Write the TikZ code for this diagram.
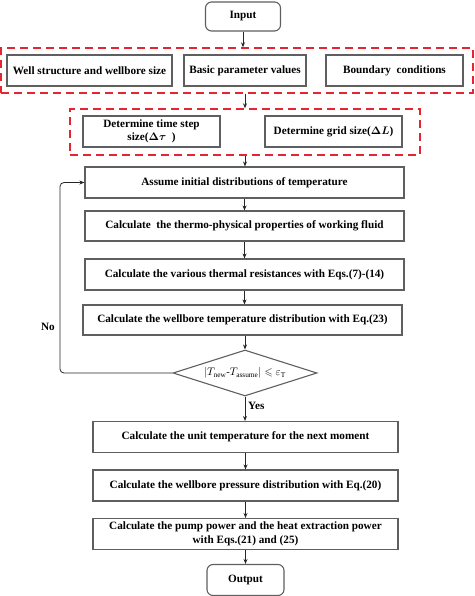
\documentclass[tikz,border=0pt]{standalone}
\usepackage{amsmath,amssymb,bm}
\usepackage{fontspec}
\setmainfont{Liberation Serif}
\usetikzlibrary{arrows.meta,shapes.geometric}
\definecolor{grpred}{RGB}{228,38,48}
\definecolor{boxgray}{RGB}{95,95,95}
\tikzset{
  x=1pt,y=1pt,
  every node/.style={font=\bfseries\fontsize{11.2}{13.5}\selectfont},
  stepbox/.style={draw=boxgray,line width=1.1pt,fill=white,rectangle,inner sep=1pt,align=center},
  termbox/.style={stepbox,rounded corners=6pt},
  grpbox/.style={draw=grpred,line width=1.4pt,dash pattern=on 8pt off 5pt,rectangle,inner sep=0pt},
  arr/.style={draw=black!85,line width=0.8pt,-{Stealth[length=5pt,width=4pt]}},
  decision/.style={diamond,draw=boxgray,line width=1.1pt,fill=white,aspect=3.1,inner sep=0pt,minimum width=144pt,minimum height=46pt}
}
\begin{document}
\begin{tikzpicture}
\useasboundingbox (0,0) rectangle (474,-596);
\node[termbox,minimum width=75pt,minimum height=29pt] (input) at (243,-16.5) {Input};
\node[grpbox,minimum width=472pt,minimum height=45pt] (g1) at (237,-70.5) {};
\node[stepbox,minimum width=165pt,minimum height=31pt] (well) at (89.5,-70.5) {Well structure and wellbore size};
\node[stepbox,minimum width=122pt,minimum height=31pt] (basic) at (245,-70.5) {Basic parameter values};
\node[stepbox,minimum width=137pt,minimum height=31pt] (bound) at (394.5,-70.5) {Boundary\ \ conditions};
\node[grpbox,minimum width=350pt,minimum height=46pt] (g2) at (245,-132) {};
\node[stepbox,minimum width=137pt,minimum height=31pt] (dts) at (151.5,-131.5) {Determine time step\\size($\bm{\Delta\tau}$\ \ )};
\node[stepbox,minimum width=137pt,minimum height=31pt] (dgs) at (333.5,-131.5) {Determine grid size($\bm{\Delta L}$)};
\node[stepbox,minimum width=319pt,minimum height=31pt] (assume) at (244.5,-182.5) {Assume initial distributions of temperature};
\node[stepbox,minimum width=319pt,minimum height=30pt] (thermo) at (244.5,-226) {Calculate\ \ the thermo-physical properties of working fluid};
\node[stepbox,minimum width=319pt,minimum height=31pt] (various) at (244.5,-274.5) {Calculate the various thermal resistances with Eqs.(7)-(14)};
\node[stepbox,minimum width=319pt,minimum height=30pt] (wellT) at (242.5,-320) {Calculate the wellbore temperature distribution with Eq.(23)};
\node[decision] (dia) at (245,-373) {\normalfont\fontsize{10.5}{12}\selectfont$|T_{\mathrm{new}}\text{-}T_{\mathrm{assume}}|\leqslant\varepsilon_{\mathrm{T}}$};
\node[stepbox,minimum width=305pt,minimum height=31pt] (unit) at (245.5,-437) {Calculate the unit temperature for the next moment};
\node[stepbox,minimum width=305pt,minimum height=31pt] (press) at (245.5,-485.5) {Calculate the wellbore pressure distribution with Eq.(20)};
\node[stepbox,minimum width=305pt,minimum height=31pt] (pump) at (245.5,-534) {Calculate the pump power and the heat extraction power\\with Eqs.(21) and (25)};
\node[termbox,minimum width=77pt,minimum height=31pt] (output) at (245.5,-580) {Output};
\node (no) at (48,-327) {No};
\node[anchor=west,inner sep=0pt] (yes) at (248,-406) {Yes};
\coordinate (lp) at (60,0);
\draw[arr] (input.south) -- (input.south |- g1.north);
\draw[arr] (g1.south -| g2.north) -- (g2.north);
\draw[arr] (g2.south) -- (g2.south |- assume.north);
\draw[arr] (assume.south -| thermo.north) -- (thermo.north);
\draw[arr] (thermo.south) -- (various.north);
\draw[arr] (various.south) -- (various.south |- wellT.north);
\draw[arr] (dia.north |- wellT.south) -- (dia.north);
\draw[arr] (dia.south) -- (dia.south |- unit.north);
\draw[arr] (unit.south) -- (press.north);
\draw[arr] (press.south) -- (pump.north);
\draw[arr] (pump.south) -- (output.north);
\draw[arr,rounded corners=4pt] (dia.west) -- (dia.west -| lp) -- (assume.west -| lp) -- (assume.west);
\end{tikzpicture}
\end{document}
